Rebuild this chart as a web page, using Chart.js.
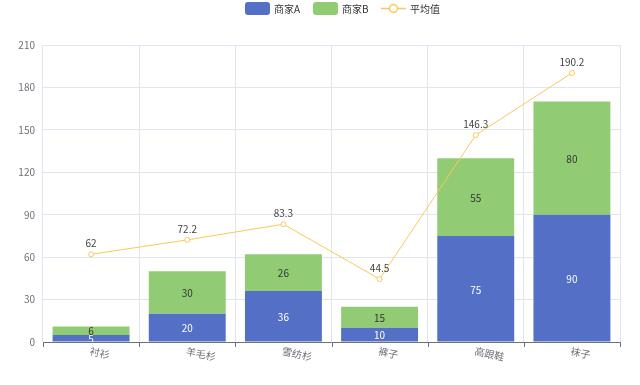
<!DOCTYPE html>
<html>
<head>
<meta charset="utf-8">
<script src="https://cdn.jsdelivr.net/npm/chart.js@4"></script>
<style>
  html, body { margin: 0; padding: 0; background: #fff; }
  #wrap { width: 640px; height: 385px; }
</style>
</head>
<body>
<div id="wrap"><canvas id="grafico" width="640" height="385"></canvas></div>
<script>
const categoriasX = ['衬衫', '羊毛杉', '雪纺杉', '裤子', '高跟鞋', '袜子'];
const vendasA = [5, 20, 36, 10, 75, 90];
const vendasB = [6, 30, 26, 15, 55, 80];
const mediaValores = [62, 72.2, 83.3, 44.5, 146.3, 190.2];
const yTicks = [0, 30, 60, 90, 120, 150, 180, 210];

const FONTE = '"Noto Sans CJK SC", "Noto Sans", sans-serif';
const cores = { a: '#5470c6', b: '#91cc75', media: '#fac858' };

// rótulos de valor nas barras e na linha
const rotulosPlugin = {
    id: 'rotulos',
    afterDatasetsDraw(chart) {
        const ctx = chart.ctx;
        ctx.save();
        ctx.font = '10px ' + FONTE;
        ctx.textAlign = 'center';
        ctx.textBaseline = 'middle';
        chart.data.datasets.forEach((ds, i) => {
            const meta = chart.getDatasetMeta(i);
            meta.data.forEach((el, j) => {
                const v = ds.data[j];
                if (ds.type === 'line') {
                    ctx.fillStyle = '#444';
                    ctx.fillText(String(v), el.x, el.y - 11);
                } else {
                    ctx.fillStyle = ds.label === '商家A' ? '#fff' : '#333';
                    ctx.fillText(String(v), el.x, (el.y + el.base) / 2 + 1);
                }
            });
        });
        ctx.restore();
    }
};

// legenda e rótulos do eixo x desenhados à mão
const extrasPlugin = {
    id: 'extras',
    afterDraw(chart) {
        const ctx = chart.ctx;
        const xs = chart.scales.x;
        ctx.save();
        ctx.font = '10px ' + FONTE;

        // eixo x: linha e marcas
        const yb = chart.chartArea.bottom;
        ctx.strokeStyle = '#6e7079';
        ctx.lineWidth = 1;
        ctx.beginPath();
        ctx.moveTo(chart.chartArea.left, yb + 0.5);
        ctx.lineTo(chart.chartArea.right, yb + 0.5);
        const passo = (chart.chartArea.right - chart.chartArea.left) / categoriasX.length;
        for (let k = 0; k <= categoriasX.length; k++) {
            const x = Math.round(chart.chartArea.left + k * passo) + 0.5;
            ctx.moveTo(x, yb);
            ctx.lineTo(x, yb + 5);
        }
        ctx.stroke();

        ctx.fillStyle = '#6e7079';
        ctx.textAlign = 'left';
        ctx.textBaseline = 'top';
        categoriasX.forEach((c, k) => {
            const x = xs.getPixelForValue(k);
            ctx.save();
            ctx.translate(x, yb + 4);
            ctx.rotate(12 * Math.PI / 180);
            ctx.fillText(c, 0, 0);
            ctx.restore();
        });

        // legenda
        ctx.textBaseline = 'middle';
        const ly = 8;
        const itens = [
            { t: '商家A', cor: cores.a, tipo: 'bar', x: 245 },
            { t: '商家B', cor: cores.b, tipo: 'bar', x: 313 },
            { t: '平均值', cor: cores.media, tipo: 'line', x: 381 }
        ];
        itens.forEach(it => {
            if (it.tipo === 'bar') {
                ctx.fillStyle = it.cor;
                ctx.beginPath();
                ctx.roundRect(it.x, ly - 6, 25, 13, 3);
                ctx.fill();
            } else {
                ctx.strokeStyle = it.cor;
                ctx.lineWidth = 1.5;
                ctx.beginPath();
                ctx.moveTo(it.x, ly + 0.5);
                ctx.lineTo(it.x + 25, ly + 0.5);
                ctx.stroke();
                ctx.fillStyle = '#fff';
                ctx.beginPath();
                ctx.arc(it.x + 12.5, ly + 0.5, 4, 0, Math.PI * 2);
                ctx.fill();
                ctx.stroke();
            }
            ctx.fillStyle = '#333';
            ctx.fillText(it.t, it.x + 29, ly + 1);
        });
        ctx.restore();
    }
};

const ctxGrafico = document.getElementById('grafico').getContext('2d');
new Chart(ctxGrafico, {
    data: {
        labels: categoriasX,
        datasets: [
            {
                type: 'line',
                label: '平均值',
                data: mediaValores,
                stack: 'media',
                borderColor: cores.media,
                backgroundColor: '#fff',
                borderWidth: 1,
                pointRadius: 2.5,
                pointBorderWidth: 1,
                pointBackgroundColor: '#fff',
                pointBorderColor: cores.media,
                tension: 0,
                order: 0
            },
            {
                type: 'bar',
                label: '商家A',
                data: vendasA,
                stack: 'vendas',
                backgroundColor: cores.a,
                barPercentage: 0.8,
                categoryPercentage: 1,
                order: 1
            },
            {
                type: 'bar',
                label: '商家B',
                data: vendasB,
                stack: 'vendas',
                backgroundColor: cores.b,
                barPercentage: 0.8,
                categoryPercentage: 1,
                order: 1
            }
        ]
    },
    options: {
        responsive: false,
        animation: false,
        layout: { padding: { top: 45, right: 20, left: 0, bottom: 0 } },
        plugins: {
            legend: { display: false },
            tooltip: { enabled: false }
        },
        scales: {
            x: {
                stacked: true,
                offset: true,
                grid: { offset: true, color: '#e0e6f1', drawTicks: false },
                border: { display: false },
                ticks: { display: false },
                afterFit: (s) => { s.height = 43; }
            },
            y: {
                stacked: true,
                min: 0,
                max: 210,
                afterBuildTicks: (s) => { s.ticks = yTicks.map(v => ({ value: v })); },
                grid: { color: '#e0e6f1', drawTicks: false },
                border: { display: false },
                ticks: {
                    color: '#6e7079',
                    font: { size: 10, family: FONTE },
                    padding: 8
                },
                afterFit: (s) => { s.width = 43; }
            }
        }
    },
    plugins: [rotulosPlugin, extrasPlugin]
});
</script>
</body>
</html>
